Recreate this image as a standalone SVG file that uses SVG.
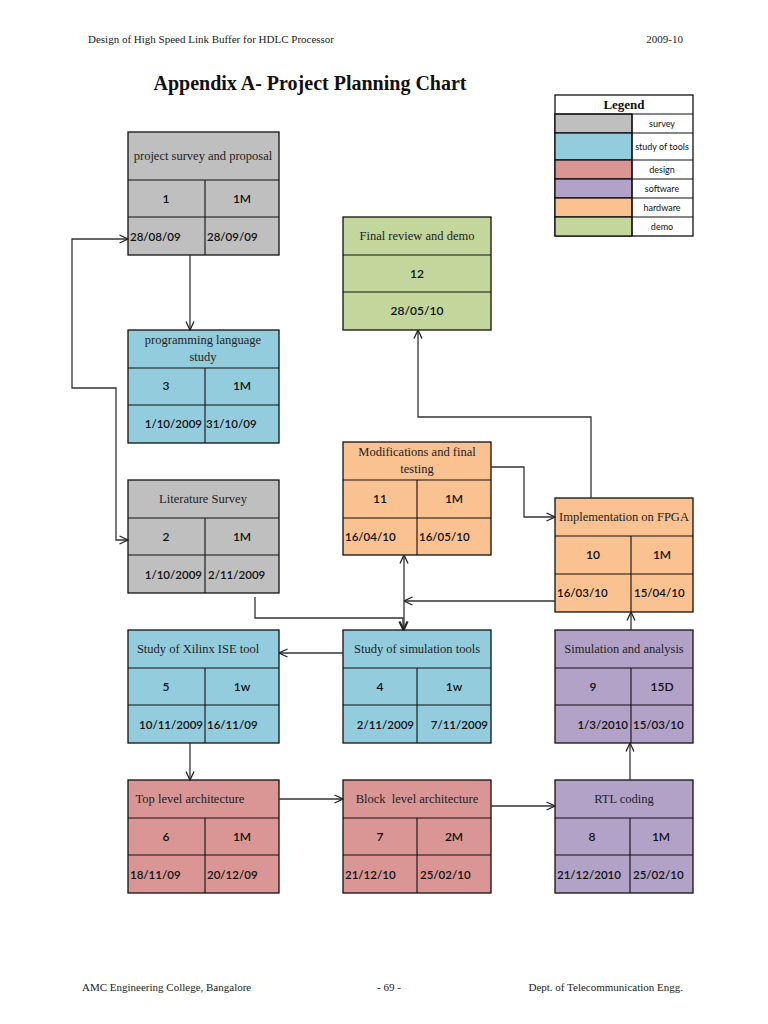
<svg xmlns="http://www.w3.org/2000/svg" width="768" height="1024" viewBox="0 0 768 1024">
<defs>
<marker id="ah" viewBox="0 0 10 10" refX="9.5" refY="5" markerWidth="10" markerHeight="10" markerUnits="userSpaceOnUse" orient="auto-start-reverse">
<path d="M1,1 L9.5,5 L1,9" fill="none" stroke="#222" stroke-width="1.3"/>
</marker>
<style>
.box{stroke:#111;stroke-width:1.3}
.ln{fill:none;stroke:#111;stroke-width:1.1}
.t{font-family:"Liberation Serif",serif;font-size:12.5px;fill:#222;text-anchor:middle}
.n{font-family:Lato,"Liberation Sans",sans-serif;font-size:12px;font-weight:600;fill:#111;text-anchor:middle}
.d{font-family:Lato,"Liberation Sans",sans-serif;font-size:11.5px;font-weight:600;fill:#111}
.c{fill:none;stroke:#333;stroke-width:1.3}
.gr{fill:#bfbfbf}.bl{fill:#93cddd}.rd{fill:#d99694}.pu{fill:#b2a2c7}.pe{fill:#fac191}.gn{fill:#c3d69b}
.lg{font-family:Lato,"Liberation Sans",sans-serif;font-size:9px;fill:#111;text-anchor:middle}
.hd{font-family:"Liberation Serif",serif;font-size:11px;fill:#222}
</style>
</defs>
<rect width="768" height="1024" fill="#fff"/>
<text class="hd" x="88" y="43">Design of High Speed Link Buffer for HDLC Processor</text>
<text class="hd" x="683" y="43" text-anchor="end">2009-10</text>
<text x="310" y="90" font-family="Liberation Serif,serif" font-size="20" font-weight="bold" text-anchor="middle" fill="#111">Appendix A- Project Planning Chart</text>
<text class="hd" x="82" y="991">AMC Engineering College, Bangalore</text>
<text class="hd" x="389" y="991" text-anchor="middle">- 69 -</text>
<text class="hd" x="683" y="991" text-anchor="end">Dept. of Telecommunication Engg.</text>

<g id="legend">
<rect x="555" y="95" width="138" height="141" fill="#fff" class="box"/>
<text x="624" y="109" font-family="Liberation Serif,serif" font-size="13" font-weight="bold" text-anchor="middle" fill="#111">Legend</text>
<rect x="555" y="114" width="77" height="19" class="gr box"/>
<rect x="555" y="133" width="77" height="27" class="bl box"/>
<rect x="555" y="160" width="77" height="19" class="rd box"/>
<rect x="555" y="179" width="77" height="19" class="pu box"/>
<rect x="555" y="198" width="77" height="19" class="pe box"/>
<rect x="555" y="217" width="77" height="19" class="gn box"/>
<path class="ln" d="M632,114V236M632,133H693M632,160H693M632,179H693M632,198H693M632,217H693M555,114H693"/>
<text class="lg" x="662" y="127" font-family="Liberation Serif,serif" fill="#555">survey</text>
<text class="lg" x="662" y="150">study of tools</text>
<text class="lg" x="662" y="173">design</text>
<text class="lg" x="662" y="192">software</text>
<text class="lg" x="662" y="211">hardware</text>
<text class="lg" x="662" y="230">demo</text>
</g>

<g id="node1">
<rect x="128" y="132" width="151" height="123" class="gr box"/>
<path class="ln" d="M128,180H279M128,217H279M205,180V255"/>
<text class="t" x="203" y="160">project survey and proposal</text>
<text class="n" x="166" y="203">1</text><text class="n" x="242" y="203">1M</text>
<text class="d" x="130" y="241">28/08/09</text><text class="d" x="207" y="241">28/09/09</text>
</g>

<g id="node3">
<rect x="128" y="330" width="151" height="113" class="bl box"/>
<path class="ln" d="M128,368H279M128,405H279M205,368V443"/>
<text class="t" x="203" y="344">programming language</text>
<text class="t" x="203" y="361">study</text>
<text class="n" x="166" y="390">3</text><text class="n" x="242" y="390">1M</text>
<text class="d" x="202" y="428" text-anchor="end">1/10/2009</text><text class="d" x="206" y="428">31/10/09</text>
</g>

<g id="node2">
<rect x="128" y="480" width="151" height="113" class="gr box"/>
<path class="ln" d="M128,518H279M128,555H279M205,518V593"/>
<text class="t" x="203" y="503">Literature Survey</text>
<text class="n" x="166" y="541">2</text><text class="n" x="242" y="541">1M</text>
<text class="d" x="202" y="579" text-anchor="end">1/10/2009</text><text class="d" x="208" y="579">2/11/2009</text>
</g>

<g id="node5">
<rect x="128" y="630" width="151" height="113" class="bl box"/>
<path class="ln" d="M128,668H279M128,705H279M205,668V743"/>
<text class="t" x="198" y="653">Study of Xilinx ISE tool</text>
<text class="n" x="166" y="691">5</text><text class="n" x="242" y="691">1w</text>
<text class="d" x="203" y="729" text-anchor="end">10/11/2009</text><text class="d" x="207" y="729">16/11/09</text>
</g>

<g id="node6">
<rect x="128" y="780" width="151" height="113" class="rd box"/>
<path class="ln" d="M128,818H279M128,855H279M205,818V893"/>
<text class="t" x="190" y="803">Top level architecture</text>
<text class="n" x="166" y="841">6</text><text class="n" x="242" y="841">1M</text>
<text class="d" x="130" y="879">18/11/09</text><text class="d" x="207" y="879">20/12/09</text>
</g>

<g id="node7">
<rect x="343" y="780" width="148" height="113" class="rd box"/>
<path class="ln" d="M343,818H491M343,855H491M417,818V893"/>
<text class="t" x="417" y="803" xml:space="preserve">Block  level architecture</text>
<text class="n" x="380" y="841">7</text><text class="n" x="454" y="841">2M</text>
<text class="d" x="345" y="879">21/12/10</text><text class="d" x="420" y="879">25/02/10</text>
</g>

<g id="node8">
<rect x="555" y="780" width="138" height="113" class="pu box"/>
<path class="ln" d="M555,818H693M555,855H693M630,818V893"/>
<text class="t" x="624" y="803">RTL coding</text>
<text class="n" x="592" y="841">8</text><text class="n" x="661" y="841">1M</text>
<text class="d" x="557" y="879">21/12/2010</text><text class="d" x="633" y="879">25/02/10</text>
</g>

<g id="node9">
<rect x="555" y="630" width="138" height="113" class="pu box"/>
<path class="ln" d="M555,668H693M555,705H693M631,668V743"/>
<text class="t" x="624" y="653">Simulation and analysis</text>
<text class="n" x="593" y="691">9</text><text class="n" x="662" y="691">15D</text>
<text class="d" x="628" y="729" text-anchor="end">1/3/2010</text><text class="d" x="633" y="729">15/03/10</text>
</g>

<g id="node4">
<rect x="343" y="630" width="148" height="113" class="bl box"/>
<path class="ln" d="M343,668H491M343,705H491M417,668V743"/>
<text class="t" x="417" y="653">Study of simulation tools</text>
<text class="n" x="380" y="691">4</text><text class="n" x="454" y="691">1w</text>
<text class="d" x="414" y="729" text-anchor="end">2/11/2009</text><text class="d" x="488" y="729" text-anchor="end">7/11/2009</text>
</g>

<g id="node10">
<rect x="555" y="498" width="138" height="114" class="pe box"/>
<path class="ln" d="M555,536H693M555,574H693M631,536V612"/>
<text class="t" x="624" y="521">Implementation on FPGA</text>
<text class="n" x="593" y="559">10</text><text class="n" x="662" y="559">1M</text>
<text class="d" x="557" y="597">16/03/10</text><text class="d" x="634" y="597">15/04/10</text>
</g>

<g id="node11">
<rect x="343" y="442" width="148" height="113" class="pe box"/>
<path class="ln" d="M343,480H491M343,518H491M417,480V555"/>
<text class="t" x="417" y="456">Modifications and final</text>
<text class="t" x="417" y="473">testing</text>
<text class="n" x="380" y="503">11</text><text class="n" x="454" y="503">1M</text>
<text class="d" x="345" y="541">16/04/10</text><text class="d" x="419" y="541">16/05/10</text>
</g>

<g id="node12">
<rect x="343" y="217" width="148" height="113" class="gn box"/>
<path class="ln" d="M343,255H491M343,292H491"/>
<text class="t" x="417" y="240">Final review and demo</text>
<text class="n" x="417" y="278">12</text>
<text class="n" x="417" y="315">28/05/10</text>
</g>

<g id="connectors">
<path class="c" d="M190,255V330" marker-end="url(#ah)"/>
<path class="c" d="M128,239H72V388H116V540H128" marker-start="url(#ah)" marker-end="url(#ah)"/>
<path class="c" d="M255,597V618H403V630" marker-end="url(#ah)"/>
<path class="c" d="M343,653H279" marker-end="url(#ah)"/>
<path class="c" d="M190,743V780" marker-end="url(#ah)"/>
<path class="c" d="M279,799H343" marker-end="url(#ah)"/>
<path class="c" d="M491,806H555" marker-end="url(#ah)"/>
<path class="c" d="M630,780V743" marker-end="url(#ah)"/>
<path class="c" d="M631,630V612" marker-end="url(#ah)"/>
<path class="c" d="M555,601H404" marker-end="url(#ah)"/>
<path class="c" d="M404,555V630" marker-start="url(#ah)" marker-end="url(#ah)"/>
<path class="c" d="M491,467H524V517H555" marker-end="url(#ah)"/>
<path class="c" d="M591,498V417H418V330" marker-end="url(#ah)"/>
</g>
</svg>
